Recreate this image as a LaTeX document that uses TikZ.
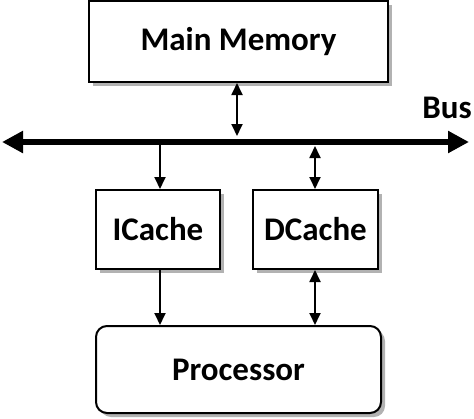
\documentclass[tikz,border=0pt]{standalone}
\usepackage{fontspec}
\setmainfont{Carlito}
\usetikzlibrary{arrows.meta,shadows}

\tikzset{
  blk/.style={draw=black, line width=2pt, fill=white, inner sep=0pt,
    font=\fontsize{33}{40}\selectfont\bfseries,
    drop shadow={shadow xshift=4pt, shadow yshift=-4pt, fill=black!30, opacity=1}},
  link/.style={line width=1.8pt, -{Triangle[length=12pt,width=11pt]}},
  dlink/.style={line width=1.8pt, {Triangle[length=12pt,width=11pt]}-{Triangle[length=12pt,width=11pt]}},
}

\begin{document}
\begin{tikzpicture}[x=1pt,y=-1pt]
    \useasboundingbox (0,0) rectangle (474,418);

    \node[blk, minimum width=299pt, minimum height=81pt] (mem) at (238.5,41.5) {Main Memory};
    \node[blk, minimum width=124pt, minimum height=79pt] (icache) at (158,229.5) {ICache};
    \node[blk, minimum width=125pt, minimum height=79pt] (dcache) at (315.5,229.5) {DCache};
    \node[blk, rounded corners=11pt, minimum width=285pt, minimum height=87pt] (proc) at (238.5,369.5) {Processor};

    % the bus
    \coordinate (busL) at (2,142);
    \coordinate (busR) at (469,142);
    \draw[line width=6pt, {Triangle[length=21pt,width=21pt]}-{Triangle[length=21pt,width=21pt]}] (busL) -- (busR);
    \node[font=\fontsize{33}{40}\selectfont\bfseries, anchor=east, inner sep=0pt] (buslabel) at (472,108) {Bus};

    \coordinate (m) at (237,136);
    \coordinate (i) at (160,144);
    \coordinate (d) at (315,146);

    \draw[dlink] (mem.south -| m) -- (m);
    \draw[link] (i) -- (i |- icache.north);
    \draw[dlink] (d) -- (d |- dcache.north);
    \draw[link] (icache.south -| i) -- (i |- proc.north);
    \draw[dlink] (dcache.south -| d) -- (d |- proc.north);
\end{tikzpicture}
\end{document}
